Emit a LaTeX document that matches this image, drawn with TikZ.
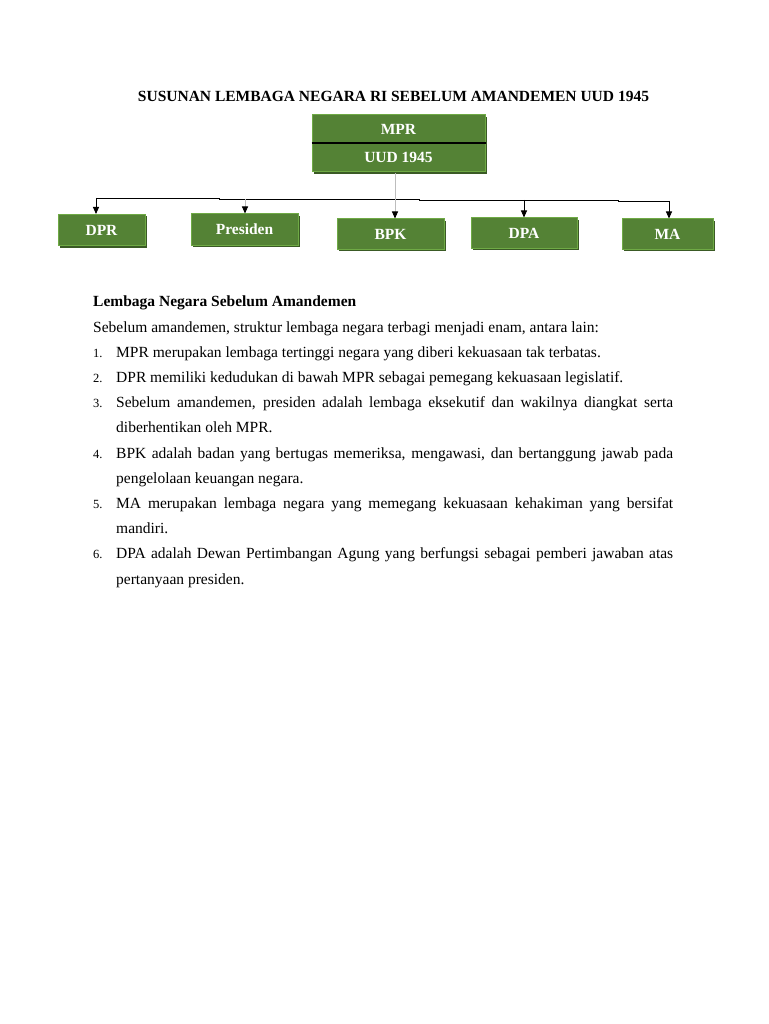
\documentclass[tikz,border=0pt]{standalone}
\usepackage{fontspec}
\setmainfont{Liberation Serif}
\usetikzlibrary{arrows.meta,shadows}
\definecolor{boxfill}{HTML}{548235}
\definecolor{boxedge}{HTML}{6FAA45}
\definecolor{boxshadow}{HTML}{3A5A25}
\definecolor{stemgray}{HTML}{BDBDBD}
\newcommand{\bodyfont}{\fontsize{15.5}{25}\selectfont}
\newcommand{\numfont}{\fontsize{12.5}{25}\selectfont}
\begin{document}
\begin{tikzpicture}[x=1pt,y=-1pt,
  orgbox/.style={draw=boxedge, line width=1pt, fill=boxfill, text=white,
    font=\bodyfont\bfseries, inner sep=0pt,
    drop shadow={shadow xshift=2pt, shadow yshift=-2pt, fill=boxshadow, opacity=1}},
  conn/.style={draw=black, line width=0.9pt},
  arr/.style={line width=0.9pt, -{Triangle[width=6pt,length=7pt,color=black,fill=black]}},
  txt/.style={anchor=base west, inner sep=0pt, font=\bodyfont},
  num/.style={anchor=base west, inner sep=0pt, font=\numfont},
]
\useasboundingbox (0,0) rectangle (768,1024);

% title
\node[anchor=base, inner sep=0pt, font=\bodyfont\bfseries] (title) at (393.5,102)
  {SUSUNAN LEMBAGA NEGARA RI SEBELUM AMANDEMEN UUD 1945};

% boxes
\node[orgbox, minimum width=173pt, minimum height=28pt] (mpr) at (398.5,129) {MPR};
\node[orgbox, minimum width=173pt, minimum height=29pt] (uud) at (398.5,157.5) {UUD 1945};
\draw[line width=2pt, black] (mpr.south west) -- (mpr.south east);

\node[orgbox, minimum width=87pt, minimum height=31pt] (dpr) at (101.5,230) {DPR};
\node[orgbox, minimum width=107pt, minimum height=31pt] (pres) at (244.5,229.5) {Presiden};
\node[orgbox, minimum width=107pt, minimum height=30pt] (bpk) at (390.5,234) {BPK};
\node[orgbox, minimum width=106pt, minimum height=30pt] (dpa) at (524,233) {DPA};
\node[orgbox, minimum width=91pt, minimum height=30pt] (ma) at (667.5,234) {MA};

% connectors
\coordinate (h0) at (96,198);
\coordinate (h1) at (219,198);
\coordinate (h2) at (219,199);
\coordinate (h3) at (419,199);
\coordinate (h4) at (419,200);
\coordinate (h5) at (618,200);
\coordinate (h6) at (618,201);
\coordinate (h7) at (669,201);
\coordinate (pj) at (245,199);
\coordinate (mj) at (395,173);
\coordinate (dj) at (524,200);
\draw[conn] (h0) -- (h1) -- (h2) -- (h3) -- (h4) -- (h5) -- (h6) -- (h7);
\draw[arr, stemgray] (mj) -- (mj |- bpk.north);
\draw[arr, black] (h0) -- (h0 |- dpr.north);
\draw[arr, stemgray] (pj) -- (pj |- pres.north);
\draw[arr, black] (dj) -- (dj |- dpa.north);
\draw[arr, black] (h7) -- (h7 |- ma.north);

% text
\node[txt, font=\bodyfont\bfseries] (head) at (93,306.5) {Lembaga Negara Sebelum Amandemen};
\node[txt] (intro) at (93,332) {Sebelum amandemen, struktur lembaga negara terbagi menjadi enam, antara lain:};

\node[num] (n1) at (93,357) {1.};
\node[txt] (t1) at (116,357) {MPR merupakan lembaga tertinggi negara yang diberi kekuasaan tak terbatas.};

\node[num] (n2) at (93,382) {2.};
\node[txt] (t2) at (116,382) {DPR memiliki kedudukan di bawah MPR sebagai pemegang kekuasaan legislatif.};

\node[num] (n3) at (93,407.5) {3.};
\node[txt] (t3a) at (116,407.5) {\makebox[557pt][s]{Sebelum amandemen, presiden adalah lembaga eksekutif dan wakilnya diangkat serta}};
\node[txt] (t3b) at (116,432.5) {diberhentikan oleh MPR.};

\node[num] (n4) at (93,458) {4.};
\node[txt] (t4a) at (116,458) {\makebox[557pt][s]{BPK adalah badan yang bertugas memeriksa, mengawasi, dan bertanggung jawab pada}};
\node[txt] (t4b) at (116,483) {pengelolaan keuangan negara.};

\node[num] (n5) at (93,508) {5.};
\node[txt] (t5a) at (116,508) {\makebox[557pt][s]{MA merupakan lembaga negara yang memegang kekuasaan kehakiman yang bersifat}};
\node[txt] (t5b) at (116,533.5) {mandiri.};

\node[num] (n6) at (93,558.5) {6.};
\node[txt] (t6a) at (116,558.5) {\makebox[557pt][s]{DPA adalah Dewan Pertimbangan Agung yang berfungsi sebagai pemberi jawaban atas}};
\node[txt] (t6b) at (116,584) {pertanyaan presiden.};
\end{tikzpicture}
\end{document}
